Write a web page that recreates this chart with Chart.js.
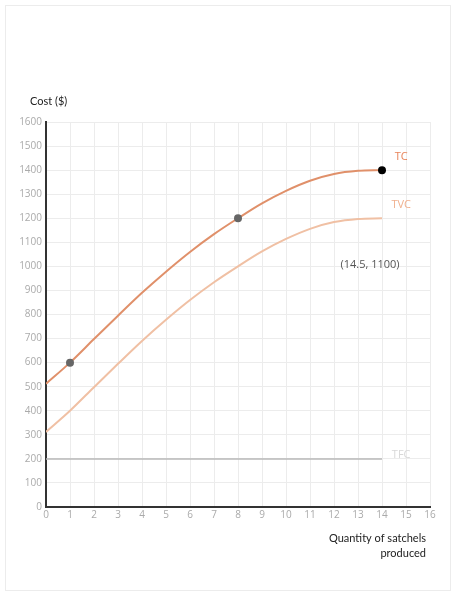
<!DOCTYPE html>
<html><head><meta charset="utf-8">
<script src="https://cdn.jsdelivr.net/npm/chart.js@4/dist/chart.umd.min.js"></script>
<style>html,body{margin:0;background:#fff;}#box{position:absolute;left:5px;top:5px;width:444px;height:584px;border:1px solid #ececec;}canvas{position:absolute;left:0;top:0;}</style>
</head><body><div id="box"></div><canvas id="c" width="455" height="594"></canvas>
<script>
const quantity = [0,1,2,3,4,5,6,7,8,9,10,11,12,13,14];
const tc  = [512,600,698,795,890,978,1060,1134,1200,1262,1314,1356,1384,1397,1400];
const tvc = [312,400,498,595,690,778,860,934,1000,1062,1114,1156,1184,1197,1200];
const tfc = [200,200,200,200,200,200,200,200,200,200,200,200,200,200,200];
const markedQ = [1,8,14];
const markedCost = [600,1200,1400];
const yTicks = [0,100,200,300,400,500,600,700,800,900,1000,1100,1200,1300,1400,1500,1600];
const pts = (xs, ys) => xs.map((x,i)=>({x, y: ys[i]}));

const labels = {
  id:'labels',
  afterDraw(ch){
    const c=ch.ctx, x=ch.scales.x, y=ch.scales.y;
    c.save();
    c.font='11px Lato, "Open Sans", sans-serif';
    c.fillStyle='#222'; c.textAlign='left'; c.textBaseline='middle';
    c.fillText('Cost ($)', 30, 101);
    c.textAlign='right';
    c.fillText('Quantity of satchels', 426, 538);
    c.fillText('produced', 426, 553);
    c.font='11px "Open Sans", sans-serif'; c.textAlign='center';
    c.fillStyle='#e8845a'; c.fillText('TC', x.getPixelForValue(14.8), y.getPixelForValue(1455));
    c.fillStyle='#f0b08e'; c.fillText('TVC', x.getPixelForValue(14.8), y.getPixelForValue(1255));
    c.fillStyle='#d8d8d8'; c.fillText('TFC', x.getPixelForValue(14.8), y.getPixelForValue(215));
    c.fillStyle='#555'; c.fillText('(14.5, 1100)', x.getPixelForValue(13.5), y.getPixelForValue(1005));
    c.restore();
  }
};

new Chart(document.getElementById('c'), {
  type:'scatter',
  data:{datasets:[
    {data:pts(markedQ,markedCost), showLine:false, pointRadius:4, pointBackgroundColor:['#666','#666','#000'], pointBorderWidth:0, order:0},
    {data:pts(quantity,tc), showLine:true, borderColor:'#e0906a', borderWidth:2, pointRadius:0, cubicInterpolationMode:'monotone', order:1},
    {data:pts(quantity,tvc), showLine:true, borderColor:'#f0c0a4', borderWidth:2, pointRadius:0, cubicInterpolationMode:'monotone', order:2},
    {data:pts(quantity,tfc), showLine:true, borderColor:'#b8b8b8', borderWidth:1.5, pointRadius:0, order:3}
  ]},
  options:{
    responsive:false, animation:false,
    layout:{padding:{left:0,right:25,top:122,bottom:0}},
    plugins:{legend:{display:false},tooltip:{enabled:false}},
    scales:{
      x:{type:'linear',min:0,max:16,
        ticks:{stepSize:1,color:'#aaa',font:{size:10,family:'"Open Sans", sans-serif'},padding:2},
        grid:{color:'#ececec',drawTicks:false},
        border:{color:'#333',width:2},
        afterFit(s){s.height=87;}},
      y:{min:0,max:1600,afterBuildTicks(s){s.ticks=yTicks.map(v=>({value:v}));},
        ticks:{color:'#aaa',font:{size:10,family:'"Open Sans", sans-serif'},padding:4,callback:v=>String(v)},
        grid:{color:'#ececec',drawTicks:false},
        border:{color:'#333',width:2},
        afterFit(s){s.width=46;}}
    }
  },
  plugins:[labels]
});
</script></body></html>
